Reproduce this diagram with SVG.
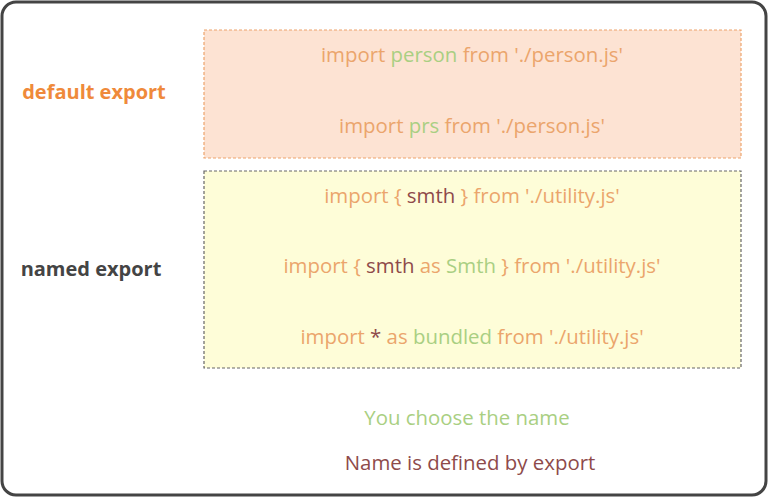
<svg xmlns="http://www.w3.org/2000/svg" width="768" height="497" viewBox="0 0 768 497">
<style>
text{font-family:"Open Sans","Liberation Sans",sans-serif;font-size:20.4px;text-anchor:middle}
.o{fill:#eba56c}.g{fill:#a9cf82}.r{fill:#8e4a4a}
.lbl{font-weight:bold;font-size:20px}
</style>
<rect x="0" y="0" width="768" height="497" fill="#fff"/>
<rect x="2" y="2" width="764" height="493" rx="14" fill="#fff" stroke="#444" stroke-width="3"/>
<g id="default-label"><text class="lbl" x="94" y="99" fill="#ef8a3b">default export</text></g>
<g id="named-label"><text class="lbl" x="91" y="276" fill="#444">named export</text></g>
<g id="default-box">
<rect x="204" y="30" width="537" height="128" fill="#fde3d3" stroke="#eda46d" stroke-width="1.2" stroke-dasharray="3,2"/>
<text x="472" y="62" class="o">import <tspan class="g">person</tspan> from './person.js'</text>
<text x="472" y="133" class="o">import <tspan class="g">prs</tspan> from './person.js'</text>
</g>
<g id="named-box">
<rect x="204" y="171" width="537" height="197" fill="#fefdd8" stroke="#666" stroke-width="1.2" stroke-dasharray="3,2"/>
<text x="472" y="203" class="o">import { <tspan class="r">smth</tspan> } from './utility.js'</text>
<text x="472" y="273" class="o">import { <tspan class="r">smth</tspan> as <tspan class="g">Smth</tspan> } from './utility.js'</text>
<text x="472" y="344" class="o">import <tspan class="r">*</tspan> as <tspan class="g">bundled</tspan> from './utility.js'</text>
</g>
<g id="legend">
<text x="467" y="425" class="g">You choose the name</text>
<text x="470" y="470" class="r">Name is defined by export</text>
</g>
<g id="connectors"/>
</svg>
